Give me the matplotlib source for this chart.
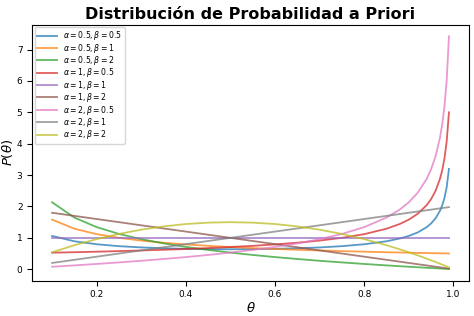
import numpy as np
import matplotlib
matplotlib.use("Agg")
import matplotlib.pyplot as plt

theta = [0.10, 0.15, 0.20, 0.25, 0.30, 0.35, 0.40, 0.45, 0.50, 0.55, 0.60, 0.65, 0.70,
         0.75, 0.80, 0.85, 0.88, 0.90, 0.92, 0.94, 0.95, 0.96, 0.97, 0.975, 0.98, 0.985, 0.99]

p_05_05 = [1.061, 0.891, 0.796, 0.735, 0.695, 0.667, 0.650, 0.640, 0.637, 0.640, 0.650, 0.667, 0.695,
           0.735, 0.796, 0.891, 0.980, 1.061, 1.173, 1.340, 1.460, 1.624, 1.866, 2.039, 2.274, 2.619, 3.199]
p_05_1 = [1.581, 1.291, 1.118, 1.000, 0.913, 0.845, 0.791, 0.745, 0.707, 0.674, 0.645, 0.620, 0.598,
          0.577, 0.559, 0.542, 0.533, 0.527, 0.521, 0.516, 0.513, 0.510, 0.508, 0.506, 0.505, 0.504, 0.503]
p_05_2 = [2.134, 1.646, 1.342, 1.125, 0.958, 0.824, 0.711, 0.615, 0.530, 0.455, 0.387, 0.326, 0.269,
          0.217, 0.168, 0.122, 0.096, 0.079, 0.063, 0.046, 0.038, 0.031, 0.023, 0.019, 0.015, 0.011, 0.008]
p_1_05 = [0.527, 0.542, 0.559, 0.577, 0.598, 0.620, 0.645, 0.674, 0.707, 0.745, 0.791, 0.845, 0.913,
          1.000, 1.118, 1.291, 1.443, 1.581, 1.768, 2.041, 2.236, 2.500, 2.887, 3.162, 3.536, 4.082, 5.000]
p_1_1 = [1.0] * 27
p_1_2 = [1.80, 1.70, 1.60, 1.50, 1.40, 1.30, 1.20, 1.10, 1.00, 0.90, 0.80, 0.70, 0.60,
         0.50, 0.40, 0.30, 0.24, 0.20, 0.16, 0.12, 0.10, 0.08, 0.06, 0.05, 0.04, 0.03, 0.02]
p_2_05 = [0.079, 0.122, 0.168, 0.217, 0.269, 0.326, 0.387, 0.455, 0.530, 0.615, 0.711, 0.824, 0.958,
          1.125, 1.342, 1.646, 1.905, 2.134, 2.440, 2.878, 3.186, 3.600, 4.200, 4.625, 5.197, 6.032, 7.425]
p_2_1 = [0.20, 0.30, 0.40, 0.50, 0.60, 0.70, 0.80, 0.90, 1.00, 1.10, 1.20, 1.30, 1.40,
         1.50, 1.60, 1.70, 1.76, 1.80, 1.84, 1.88, 1.90, 1.92, 1.94, 1.95, 1.96, 1.97, 1.98]
p_2_2 = [0.540, 0.765, 0.960, 1.125, 1.260, 1.365, 1.440, 1.485, 1.500, 1.485, 1.440, 1.365, 1.260,
         1.125, 0.960, 0.765, 0.634, 0.540, 0.442, 0.338, 0.285, 0.230, 0.175, 0.146, 0.118, 0.089, 0.059]

series = [p_05_05, p_05_1, p_05_2, p_1_05, p_1_1, p_1_2, p_2_05, p_2_1, p_2_2]
labels = [r"$\alpha = 0.5, \beta = 0.5$", r"$\alpha = 0.5, \beta = 1$", r"$\alpha = 0.5, \beta = 2$",
          r"$\alpha = 1, \beta = 0.5$", r"$\alpha = 1, \beta = 1$", r"$\alpha = 1, \beta = 2$",
          r"$\alpha = 2, \beta = 0.5$", r"$\alpha = 2, \beta = 1$", r"$\alpha = 2, \beta = 2$"]

fig = plt.figure(figsize=(4.74, 3.16), dpi=100)
ax = fig.add_subplot(111)
for s, lab in zip(series, labels):
    ax.plot(theta, s, label=lab, alpha=0.75, linewidth=1.3)

ax.set_title("Distribución de Probabilidad a Priori", fontsize=11.5, fontweight="bold", pad=4)
ax.set_xlabel(r"$\theta$", fontsize=9.5, labelpad=1)
ax.set_ylabel(r"$P(\theta)$", fontsize=9.5, labelpad=1)
ax.tick_params(labelsize=6.5)
ax.legend(loc="upper left", fontsize=5.6, borderaxespad=0.3, labelspacing=-0.08,
          handlelength=2.6, borderpad=0.3)

plt.subplots_adjust(left=0.068, right=0.989, bottom=0.112, top=0.922)
plt.savefig("out.png", dpi=100)
